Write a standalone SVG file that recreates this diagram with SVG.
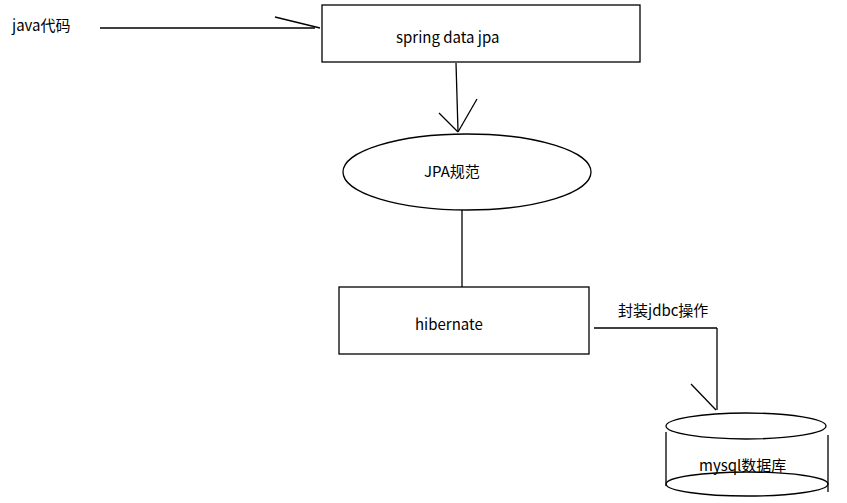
<svg xmlns="http://www.w3.org/2000/svg" width="847" height="503" viewBox="0 0 847 503">
<style>
.s{fill:none;stroke:#000;stroke-width:1.3}
text{font-family:"Noto Sans CJK SC","Liberation Sans",sans-serif;font-size:15px;fill:#000}
</style>
<rect width="847" height="503" fill="#fff"/>
<g id="java"><text x="12" y="31">java代码</text></g>
<g id="springdatajpa"><rect class="s" x="322" y="5" width="318" height="57"/><text x="396" y="43">spring data  jpa</text></g>
<g id="jpa"><ellipse class="s" cx="467" cy="172" rx="124" ry="38"/><text x="424" y="177">JPA规范</text></g>
<g id="hibernate"><rect class="s" x="339" y="287" width="250" height="67"/><text x="415" y="330">hibernate</text></g>
<g id="jdbclabel"><text x="618" y="316">封装jdbc操作</text></g>
<g id="mysql">
<ellipse class="s" cx="746" cy="426" rx="80" ry="13"/>
<ellipse class="s" cx="747" cy="484" rx="81" ry="12"/>
<line class="s" x1="666" y1="432" x2="666" y2="486"/>
<line class="s" x1="828" y1="435" x2="828" y2="492"/>
<text x="699" y="471">mysql数据库</text>
</g>
<g id="connectors">
<line class="s" x1="100" y1="28" x2="315" y2="28"/>
<line class="s" x1="275" y1="17" x2="320" y2="28"/>
<line class="s" x1="456" y1="63" x2="458" y2="131"/>
<line class="s" x1="439" y1="113" x2="458" y2="132"/>
<line class="s" x1="477" y1="99" x2="458" y2="132"/>
<line class="s" x1="462" y1="210" x2="462" y2="287"/>
<line class="s" x1="594" y1="328" x2="717" y2="328"/>
<line class="s" x1="717" y1="328" x2="717" y2="410"/>
<line class="s" x1="691" y1="384" x2="716" y2="410"/>
</g>
</svg>
